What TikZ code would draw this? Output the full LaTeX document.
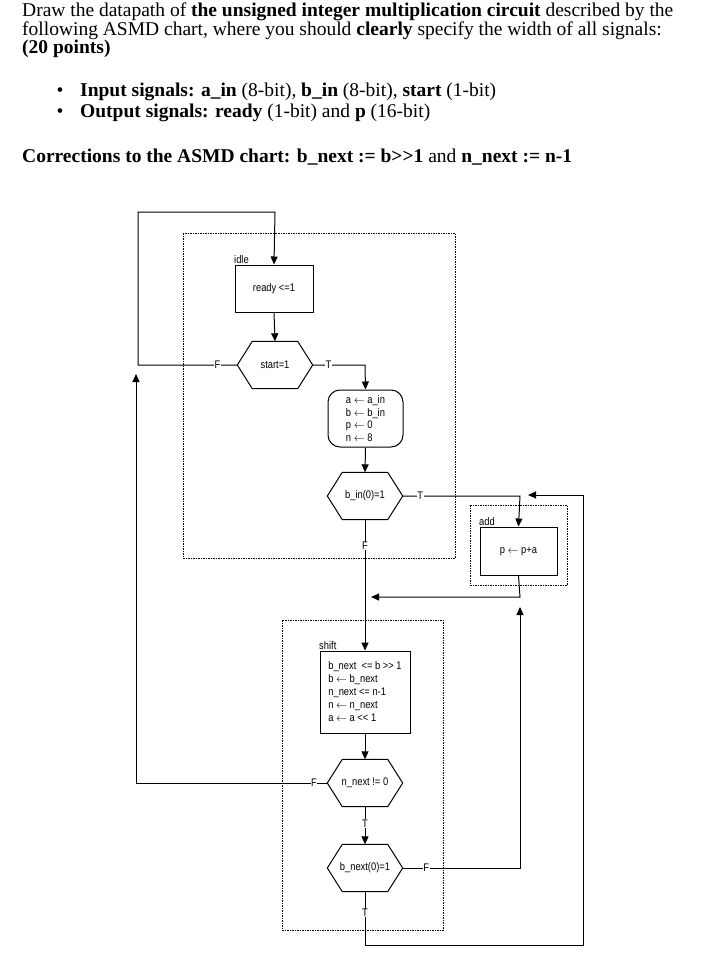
\documentclass[tikz,border=0pt]{standalone}
\usepackage{fontspec}
\setmainfont{Liberation Serif}
\newfontfamily\dsans{Liberation Sans}[FakeStretch=0.85]
\usetikzlibrary{arrows.meta,calc}
\begin{document}
\begin{tikzpicture}[x=1pt,y=-1pt,
  txt/.style={anchor=west,inner sep=0,font=\fontsize{19.5}{21}\selectfont},
  box/.style={draw,line width=1pt,font=\dsans\fontsize{11}{13}\selectfont,align=left,inner sep=2pt},
  hexn/.style={minimum width=75pt,minimum height=47pt,inner sep=0,font=\dsans\fontsize{11}{12}\selectfont},
  dbox/.style={draw,dash pattern=on 1.5pt off 1pt,line width=0.6pt},
  lbl/.style={font=\dsans\fontsize{11}{12}\selectfont,inner sep=0.5pt,fill=white},
  st/.style={font=\dsans\fontsize{11}{12}\selectfont,anchor=south west,inner sep=1pt},
  ar/.style={line width=1pt,-{Triangle[length=8pt,width=7pt]}}]
\useasboundingbox (0,0) rectangle (707,953);
\newcommand{\hexshape}[1]{\draw[line width=1pt] (#1.west) -- ($(#1.north west)+(15,0)$) -- ($(#1.north east)+(-15,0)$) -- (#1.east) -- ($(#1.south east)+(-15,0)$) -- ($(#1.south west)+(15,0)$) -- cycle;}
% header
\node[txt] (h1) at (22,12) {Draw the datapath of \textbf{the unsigned integer multiplication circuit} described by the};
\node[txt] (h2) at (22,31) {following ASMD chart, where you should \textbf{clearly} specify the width of all signals:};
\node[txt] (h3) at (22,49) {\textbf{(20 points)}};
\node[txt] (b1) at (80,92) {\textbf{Input signals: a\_in} (8-bit), \textbf{b\_in} (8-bit), \textbf{start} (1-bit)};
\node[txt] (b2) at (80,113) {\textbf{Output signals: ready} (1-bit) and \textbf{p} (16-bit)};
\node[inner sep=0,font=\fontsize{19.5}{21}\selectfont] (d1) at (60,92) {\textbullet};
\node[inner sep=0,font=\fontsize{19.5}{21}\selectfont] (d2) at (60,113) {\textbullet};
\node[txt] (c1) at (22,157) {\textbf{Corrections to the ASMD chart: b\_next := b>{}>1} and \textbf{n\_next := n-1}};
% dashed boxes
\draw[dbox] (183,233) rectangle (455,558);
\draw[dbox] (470,505) rectangle (567,585);
\draw[dbox] (282,620) rectangle (443,930);
\node[st] (lidle) at (233,265) {idle};
\node[st] (ladd) at (478,527) {add};
\node[st] (lshift) at (318,651) {shift};
% nodes
\node[box,minimum width=78pt,minimum height=47pt] (idle) at (274,288.5) {ready <=1};
\node[hexn] (start) at (275,365) {start=1};
\hexshape{start}
\node[draw,line width=1pt,rounded corners=12pt,minimum width=75pt,minimum height=57pt,inner sep=2pt,align=left,font=\dsans\fontsize{11}{12.5}\selectfont] (init) at (365.5,418.5) {a $\leftarrow$ a\_in\\b $\leftarrow$ b\_in\\p $\leftarrow$ 0\\n $\leftarrow$ 8};
\node[hexn] (bin) at (365,496) {b\_in(0)=1};
\hexshape{bin}
\node[box,minimum width=77pt,minimum height=48pt] (addb) at (518.5,551) {p $\leftarrow$ p+a};
\node[box,minimum width=90pt,minimum height=82pt] (shb) at (365,692) {b\_next \ <= b >{}> 1\\b $\leftarrow$ b\_next\\n\_next <= n-1\\n $\leftarrow$ n\_next\\a $\leftarrow$ a <{}< 1};
\node[hexn] (nn) at (365,783) {n\_next != 0};
\hexshape{nn}
\node[hexn] (bn) at (365,868) {b\_next(0)=1};
\hexshape{bn}
% coordinates
\coordinate (tl) at (138,212);
\coordinate (tr) at (275,212);
\coordinate (sl) at (138,365);
\coordinate (tT) at (365,365);
\coordinate (bT) at (520,496);
\coordinate (ab) at (520,597);
\coordinate (mtip) at (371,597);
\coordinate (ll) at (136,783);
\coordinate (ltip) at (136,374);
\coordinate (bf) at (520,868);
\coordinate (btip) at (520,607);
\coordinate (bb) at (365,945);
\coordinate (rb) at (583,945);
\coordinate (rt) at (583,495);
\coordinate (rtip) at (528,495);
% connectors
\draw[ar] (start.west) -- node[lbl,pos=0.2]{F} (sl) -- (tl) -- (tr) -- (idle.north);
\draw[ar] (idle.south) -- (start.north);
\draw[ar] (start.east) -- node[lbl,pos=0.3]{T} (tT) -- (init.north);
\draw[ar] (init.south) -- (bin.north);
\draw[ar] (bin.east) -- node[lbl,pos=0.15]{T} (bT) -- (addb.north);
\draw[ar] (bin.south) -- node[lbl,pos=0.2]{F} (shb.north);
\draw[ar] (addb.south) -- (ab) -- (mtip);
\draw[ar] (shb.south) -- (nn.north);
\draw[ar] (nn.west) -- node[lbl,pos=0.07]{F} (ll) -- (ltip);
\draw[ar] (nn.south) -- node[lbl,pos=0.45]{T} (bn.north);
\draw[ar] (bn.east) -- node[lbl,pos=0.2]{F} (bf) -- (btip);
\draw[ar] (bn.south) -- node[lbl,pos=0.4]{T} (bb) -- (rb) -- (rt) -- (rtip);
\end{tikzpicture}
\end{document}
